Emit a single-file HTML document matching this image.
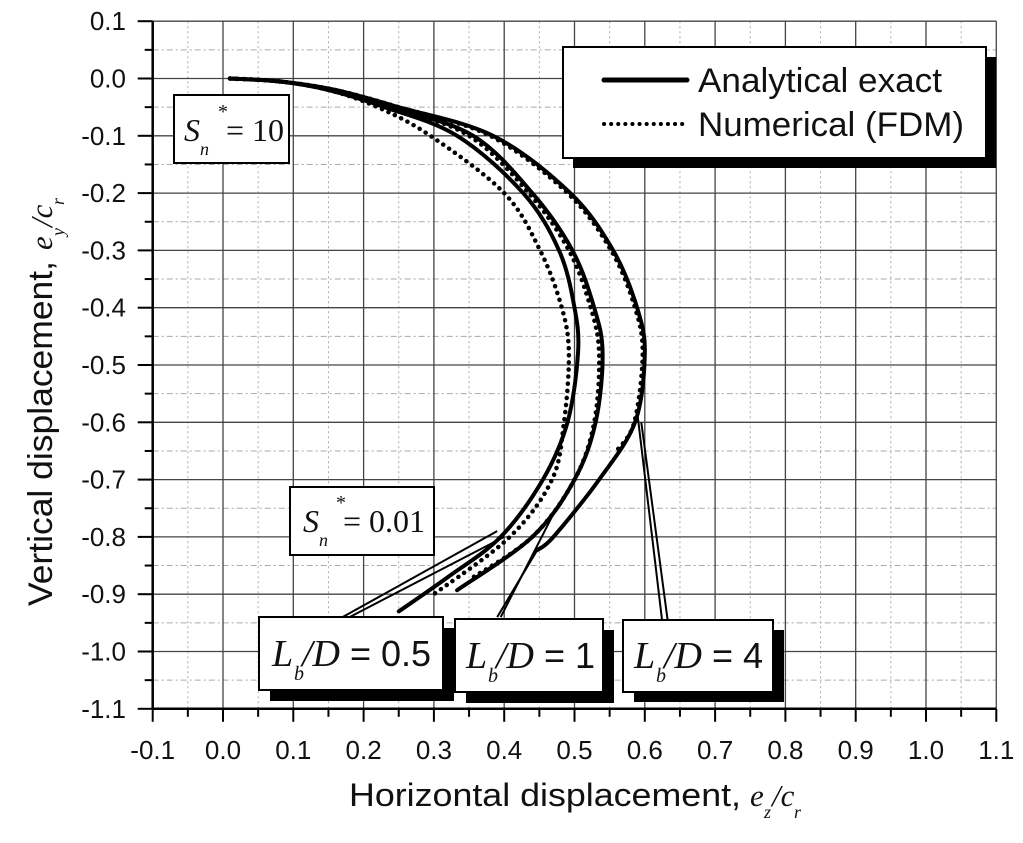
<!DOCTYPE html>
<html><head><meta charset="utf-8">
<style>
html,body{margin:0;padding:0;background:#fff;}
svg{display:block;}
text{font-family:"Liberation Sans",sans-serif;fill:#111;}
.serif{font-family:"Liberation Serif",serif;font-style:italic;}
</style></head>
<body>
<svg id="chart" width="1023" height="843" viewBox="0 0 1023 843" xmlns="http://www.w3.org/2000/svg">
  <g id="grid"></g>
  <g id="axes"></g>
  <g id="series"></g>
</svg>
<script>
// ---- data (x = e_z/c_r, y = e_y/c_r) ----
const xTicks = [-0.1,0.0,0.1,0.2,0.3,0.4,0.5,0.6,0.7,0.8,0.9,1.0,1.1];
const yTicks = [0.1,0.0,-0.1,-0.2,-0.3,-0.4,-0.5,-0.6,-0.7,-0.8,-0.9,-1.0,-1.1];
const xTickLabels = ["-0.1","0.0","0.1","0.2","0.3","0.4","0.5","0.6","0.7","0.8","0.9","1.0","1.1"];
const yTickLabels = ["0.1","0.0","-0.1","-0.2","-0.3","-0.4","-0.5","-0.6","-0.7","-0.8","-0.9","-1.0","-1.1"];

const exact05X = [0.01,0.08,0.15,0.23,0.333,0.427,0.478,0.50,0.505,0.49,0.455,0.395,0.32,0.25];
const exact05Y = [0,-0.005,-0.02,-0.05,-0.1,-0.2,-0.3,-0.4,-0.48,-0.6,-0.7,-0.8,-0.87,-0.93];
const exact1X  = [0.01,0.08,0.155,0.24,0.356,0.44,0.497,0.528,0.54,0.53,0.50,0.44,0.333];
const exact1Y  = [0,-0.005,-0.02,-0.05,-0.1,-0.2,-0.3,-0.4,-0.48,-0.6,-0.7,-0.8,-0.893];
const exact4X  = [0.01,0.08,0.16,0.25,0.384,0.494,0.555,0.589,0.60,0.586,0.535,0.47,0.447];
const exact4Y  = [0,-0.005,-0.02,-0.05,-0.1,-0.2,-0.3,-0.4,-0.48,-0.6,-0.7,-0.8,-0.823];
const fdm05X = [0.01,0.08,0.15,0.22,0.295,0.40,0.451,0.482,0.492,0.485,0.468,0.408,0.30];
const fdm05Y = [0,-0.005,-0.02,-0.05,-0.1,-0.2,-0.3,-0.4,-0.48,-0.6,-0.7,-0.8,-0.9];
const fdm1X  = [0.01,0.08,0.155,0.24,0.35,0.435,0.492,0.523,0.535,0.528,0.50,0.44,0.35];
const fdm1Y  = [0,-0.005,-0.02,-0.05,-0.1,-0.2,-0.3,-0.4,-0.48,-0.6,-0.7,-0.8,-0.875];
const fdm4X  = [0.01,0.08,0.16,0.25,0.38,0.49,0.552,0.586,0.597,0.585,0.56];
const fdm4Y  = [0,-0.005,-0.02,-0.05,-0.1,-0.2,-0.3,-0.4,-0.48,-0.6,-0.65];

const lead05X = [0.17,0.39, 0.18,0.40];
const lead05Y = [-0.94,-0.79, -0.94,-0.80];
const lead1X  = [0.39,0.447, 0.395,0.47];
const lead1Y  = [-0.94,-0.823, -0.94,-0.76];
const lead4X  = [0.625,0.59, 0.633,0.595];
const lead4Y  = [-0.95,-0.59, -0.95,-0.60];

const X0=223, XS=703, Y0=78.5, YS=573;
function sx(v){return X0+v*XS;}
function sy(v){return Y0-v*YS;}
const NS="http://www.w3.org/2000/svg";
function mk(tag,attrs,parent){const e=document.createElementNS(NS,tag);for(const k in attrs)e.setAttribute(k,attrs[k]);parent.appendChild(e);return e;}

const grid=document.getElementById('grid'), axes=document.getElementById('axes'), series=document.getElementById('series');
const L=sx(-0.1), R=sx(1.1), T=sy(0.1), B=sy(-1.1);

for(let i=0;i<xTicks.length-1;i++){
  const xv=sx(xTicks[i]+0.05);
  const g=mk('line',{x1:xv,y1:T,x2:xv,y2:B,stroke:'#aaa','stroke-width':1,'stroke-dasharray':'2,3'},grid);
  
  
}
for(let i=0;i<yTicks.length-1;i++){
  const yv=sy(yTicks[i]-0.05);
  const g=mk('line',{x1:L,y1:yv,x2:R,y2:yv,stroke:'#aaa','stroke-width':1,'stroke-dasharray':'6,3,2,3'},grid);
  
  
}
xTicks.forEach((v,i)=>{
  if(i===0) return;
  const g=mk('line',{x1:sx(v),y1:T,x2:sx(v),y2:B,stroke:'#444','stroke-width':1.3},grid);
  
  
});
yTicks.forEach((v,i)=>{
  const g=mk('line',{x1:L,y1:sy(v),x2:R,y2:sy(v),stroke:'#444','stroke-width':1.3},grid);
  
  
});

let a=mk('line',{x1:L,y1:T,x2:L,y2:B,stroke:'#000','stroke-width':2.5},axes);


a=mk('line',{x1:L,y1:B,x2:R,y2:B,stroke:'#000','stroke-width':2.5},axes);



xTicks.forEach((v,i)=>{
  const t=mk('line',{x1:sx(v),y1:B,x2:sx(v),y2:B+13,stroke:'#000','stroke-width':2},axes);
  
  
  if(i<xTicks.length-1){
    const m=mk('line',{x1:sx(v+0.05),y1:B,x2:sx(v+0.05),y2:B+8,stroke:'#000','stroke-width':2},axes);
    
    
  }
  const lb=mk('text',{x:sx(v),y:B+50,'text-anchor':'middle','font-size':26},axes);
  lb.textContent=xTickLabels[i];
  
  
});
yTicks.forEach((v,i)=>{
  const t=mk('line',{x1:L-15,y1:sy(v),x2:L,y2:sy(v),stroke:'#000','stroke-width':2},axes);
  
  
  if(i<yTicks.length-1){
    const m=mk('line',{x1:L-8,y1:sy(v-0.05),x2:L,y2:sy(v-0.05),stroke:'#000','stroke-width':2},axes);
    
    
  }
  const lb=mk('text',{x:126,y:sy(v)+9,'text-anchor':'end','font-size':26},axes);
  lb.textContent=yTickLabels[i];
  
  
});

function pathFrom(xs,ys){
  const p=xs.map((x,i)=>[sx(x),sy(ys[i])]);
  let d='M'+p[0][0].toFixed(1)+','+p[0][1].toFixed(1);
  for(let i=0;i<p.length-1;i++){
    const p0=p[i-1]||p[i],p1=p[i],p2=p[i+1],p3=p[i+2]||p[i+1];
    const c1=[p1[0]+(p2[0]-p0[0])/6,p1[1]+(p2[1]-p0[1])/6];
    const c2=[p2[0]-(p3[0]-p1[0])/6,p2[1]-(p3[1]-p1[1])/6];
    d+=` C${c1[0].toFixed(1)},${c1[1].toFixed(1)} ${c2[0].toFixed(1)},${c2[1].toFixed(1)} ${p2[0].toFixed(1)},${p2[1].toFixed(1)}`;
  }
  return d;
}
function drawSeries(xs,ys,dotted,name){
  const attrs={d:pathFrom(xs,ys),fill:'none',stroke:'#000','stroke-linecap':'round'};
  if(dotted){attrs['stroke-width']=4.5;attrs['stroke-dasharray']='0.1,7';}
  else attrs['stroke-width']=4;
  const e=mk('path',attrs,series);
  
  
}
drawSeries(fdm05X,fdm05Y,true,'fdm-curve-lb-0-5');
drawSeries(fdm1X,fdm1Y,true,'fdm-curve-lb-1');
drawSeries(fdm4X,fdm4Y,true,'fdm-curve-lb-4');
drawSeries(exact05X,exact05Y,false,'exact-curve-lb-0-5');
drawSeries(exact1X,exact1Y,false,'exact-curve-lb-1');
drawSeries(exact4X,exact4Y,false,'exact-curve-lb-4');

function drawLeaders(xs,ys,name){
  for(let i=0;i<xs.length;i+=2){
    const e=mk('line',{x1:sx(xs[i]),y1:sy(ys[i]),x2:sx(xs[i+1]),y2:sy(ys[i+1]),stroke:'#000','stroke-width':2},series);
    
    
  }
}
drawLeaders(lead05X,lead05Y,'leader-line-lb-0-5');
drawLeaders(lead1X,lead1Y,'leader-line-lb-1');
drawLeaders(lead4X,lead4Y,'leader-line-lb-4');
</script>

<svg style="position:absolute;left:0;top:0" width="1023" height="843" viewBox="0 0 1023 843" xmlns="http://www.w3.org/2000/svg">
  <g>
    <rect x="573" y="57" width="423" height="111" fill="#000"/>
    <rect x="563" y="47" width="423" height="111" fill="#fff" stroke="#000" stroke-width="2"/>
    <line x1="604" y1="80" x2="687" y2="80" stroke="#000" stroke-width="5" stroke-linecap="round"/>
    <text x="698" y="92" font-size="34" textLength="244" lengthAdjust="spacingAndGlyphs">Analytical exact</text>
    <line x1="604" y1="124" x2="684" y2="124" stroke="#000" stroke-width="4" stroke-dasharray="0.1,7" stroke-linecap="round"/>
    <text x="698" y="136" font-size="34" textLength="266" lengthAdjust="spacingAndGlyphs">Numerical (FDM)</text>
  </g>
  <g>
    <rect x="174" y="95" width="115" height="68" fill="#fff" stroke="#000" stroke-width="2"/>
    <text x="184" y="141" class="serif" font-size="32">S</text>
    <text x="200" y="155" class="serif" font-size="18">n</text>
    <text x="218" y="118" font-size="20" style="font-family:'Liberation Serif',serif">*</text>
    <text x="226" y="141" font-size="32" style="font-family:'Liberation Serif',serif">= 10</text>
  </g>
  <g>
    <rect x="290" y="487" width="144" height="68" fill="#fff" stroke="#000" stroke-width="2"/>
    <text x="303" y="532" class="serif" font-size="32">S</text>
    <text x="319" y="546" class="serif" font-size="18">n</text>
    <text x="336" y="509" font-size="20" style="font-family:'Liberation Serif',serif">*</text>
    <text x="343" y="532" font-size="32" style="font-family:'Liberation Serif',serif">= 0.01</text>
  </g>
  <g>
    <rect x="270" y="628" width="184" height="73" fill="#000"/>
    <rect x="259" y="617" width="184" height="73" fill="#fff" stroke="#000" stroke-width="2"/>
    <text x="272" y="666" class="serif" font-size="38">L</text>
    <text x="294" y="680" class="serif" font-size="20">b</text>
    <text x="302" y="666" class="serif" font-size="38">/D</text>
    <text x="350" y="666" font-size="36">= 0.5</text>
  </g>
  <g>
    <rect x="466" y="630" width="148" height="73" fill="#000"/>
    <rect x="455" y="619" width="148" height="73" fill="#fff" stroke="#000" stroke-width="2"/>
    <text x="466" y="668" class="serif" font-size="38">L</text>
    <text x="488" y="682" class="serif" font-size="20">b</text>
    <text x="496" y="668" class="serif" font-size="38">/D</text>
    <text x="544" y="668" font-size="36">= 1</text>
  </g>
  <g>
    <rect x="634" y="630" width="150" height="72" fill="#000"/>
    <rect x="623" y="620" width="150" height="72" fill="#fff" stroke="#000" stroke-width="2"/>
    <text x="634" y="668" class="serif" font-size="38">L</text>
    <text x="656" y="682" class="serif" font-size="20">b</text>
    <text x="664" y="668" class="serif" font-size="38">/D</text>
    <text x="712" y="668" font-size="36">= 4</text>
  </g>
  <g>
    <text x="349" y="806" font-size="32" textLength="392" lengthAdjust="spacingAndGlyphs">Horizontal displacement,</text>
    <text x="750" y="806" class="serif" font-size="31">e</text>
    <text x="764" y="818" class="serif" font-size="18">z</text>
    <text x="772" y="806" class="serif" font-size="31">/c</text>
    <text x="794" y="818" class="serif" font-size="18">r</text>
  </g>
  <g transform="translate(52,606) rotate(-90)">
    <text x="0" y="0" font-size="34" textLength="345" lengthAdjust="spacingAndGlyphs">Vertical displacement,</text>
    <text x="356" y="0" class="serif" font-size="31">e</text>
    <text x="370" y="12" class="serif" font-size="18">y</text>
    <text x="379" y="0" class="serif" font-size="31">/c</text>
    <text x="401" y="12" class="serif" font-size="18">r</text>
  </g>
</svg>
</body></html>
